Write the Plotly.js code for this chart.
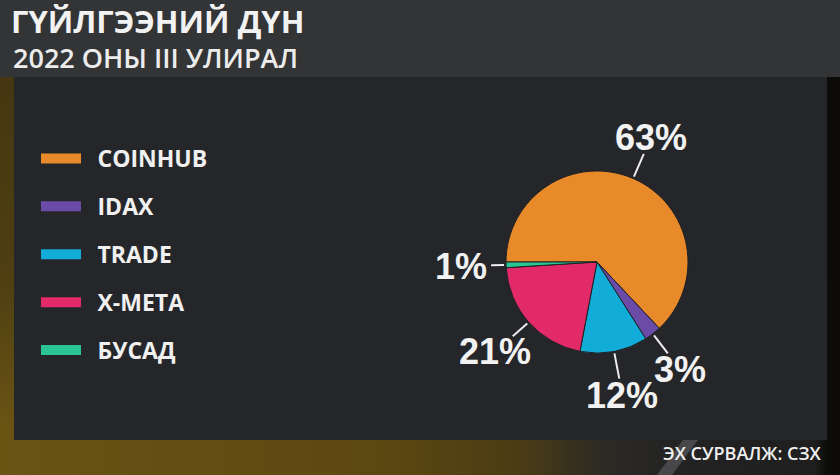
<!DOCTYPE html>
<html>
<head>
<meta charset="utf-8">
<script src="https://cdn.plot.ly/plotly-3.0.1.min.js"></script>
<style>
html,body{margin:0;padding:0;background:#141210;}
#chart{width:840px;height:475px;overflow:hidden;
background:
 linear-gradient(to right, rgba(0,0,0,0) 0%, rgba(0,0,0,0) 97%, rgba(10,9,6,0.85) 98.4%, rgba(10,9,6,0.9) 100%),
 linear-gradient(to bottom, rgba(30,26,14,0.55) 0%, rgba(30,26,14,0.35) 60%, rgba(0,0,0,0) 90%),
 linear-gradient(to right, #6a5414 0%, #5c4811 45%, #4a3c14 62%, #2c2a24 72%, #232323 80%, #1e1e1e 100%);}
</style>
</head>
<body>
<div id="chart"></div>
<script>
// ---- data ----
const categories = ['COINHUB', 'IDAX', 'TRADE', 'X-META', 'БУСАД'];
const shares = [63, 3, 12, 21, 1];
const colors = ['#E88A2A', '#6A4CA8', '#12ACD8', '#E22A68', '#2BC495'];
const titleText = 'ГҮЙЛГЭЭНИЙ ДҮН';
const subtitleText = '2022 ОНЫ III УЛИРАЛ';
const sourceText = 'ЭХ СУРВАЛЖ: СЗХ';

// ---- layout geometry ----
const W = 840, H = 475;
const pieCx = 597, pieCy = 262, pieR = 91;
const startDeg = -90; // first slice starts at 9 o'clock, clockwise
const labelDist = 136, lineStart = 93;
const px = x => x / W;
const py = y => 1 - y / H;

const traces = [];
traces.push({
  type: 'pie',
  labels: categories,
  values: shares,
  marker: {colors: colors, line: {color: '#1f2023', width: 1}},
  sort: false,
  direction: 'clockwise',
  rotation: startDeg,
  textinfo: 'none',
  hoverinfo: 'label+percent',
  showlegend: false,
  domain: {x: [px(pieCx - pieR), px(pieCx + pieR)], y: [py(pieCy + pieR), py(pieCy - pieR)]}
});
// legend entries (en space as extra gap between swatch and text)
categories.forEach((c, i) => {
  traces.push({
    type: 'scatter', mode: 'lines', x: [null], y: [null], name: '\u2002' + c,
    legendgroup: 'g' + i,
    line: {color: colors[i], width: 11},
    hoverinfo: 'skip'
  });
});

const labelFont = {family: 'Liberation Sans, Arial, sans-serif', size: 36, color: '#f2f2f2', weight: 'bold'};
const shapes = [
  {type: 'rect', xref: 'paper', yref: 'paper', x0: 0, x1: 1, y0: py(77), y1: 1,
   fillcolor: '#333436', line: {width: 0}, layer: 'below'},
  {type: 'rect', xref: 'paper', yref: 'paper', x0: px(14), x1: px(827), y0: py(440), y1: py(77),
   fillcolor: '#25262a', line: {width: 0}, layer: 'below'},
  {type: 'path', xref: 'paper', yref: 'paper',
   path: 'M' + px(683) + ',' + py(440) + 'L' + px(698) + ',' + py(440) + 'L' + px(672) + ',' + py(475) + 'L' + px(657) + ',' + py(475) + 'Z',
   fillcolor: '#48484a', line: {width: 0}, layer: 'below'}
];
const annotations = [
  {xref: 'paper', yref: 'paper', x: px(11), y: py(57), xanchor: 'left', yanchor: 'middle',
   text: subtitleText, showarrow: false,
   font: {family: 'Open Sans, sans-serif', size: 27, color: '#ececec', weight: 600}},
  {xref: 'paper', yref: 'paper', x: px(823), y: py(453), xanchor: 'right', yanchor: 'middle',
   text: sourceText, showarrow: false,
   font: {family: 'Open Sans, sans-serif', size: 18, color: '#f0f0f0', weight: 600}}
];

const total = shares.reduce((a, b) => a + b, 0);
let acc = 0;
shares.forEach((v, i) => {
  const midDeg = startDeg + (acc + v / 2) / total * 360;
  acc += v;
  const a = midDeg * Math.PI / 180;
  const sx = Math.sin(a), sy = -Math.cos(a);
  const txt = Math.round(v / total * 100) + '%';
  const digits = txt.length - 1;
  const hw = (0.556 * labelFont.size * digits + 0.889 * labelFont.size) / 2;
  const hh = 13;
  const ext = Math.min(Math.abs(sx) > 1e-6 ? hw / Math.abs(sx) : 1e9, Math.abs(sy) > 1e-6 ? hh / Math.abs(sy) : 1e9);
  const lineEnd = labelDist - ext - 4;
  shapes.push({
    type: 'line', xref: 'paper', yref: 'paper',
    x0: px(pieCx + sx * lineStart), y0: py(pieCy + sy * lineStart),
    x1: px(pieCx + sx * lineEnd), y1: py(pieCy + sy * lineEnd),
    line: {color: '#ededed', width: 2}
  });
  annotations.push({
    xref: 'paper', yref: 'paper',
    x: px(pieCx + sx * labelDist), y: py(pieCy + sy * labelDist),
    xanchor: 'center', yanchor: 'middle', text: txt, showarrow: false, font: labelFont
  });
});

const layout = {
  width: W, height: H,
  margin: {l: 0, r: 0, t: 0, b: 0},
  paper_bgcolor: 'rgba(0,0,0,0)',
  plot_bgcolor: 'rgba(0,0,0,0)',
  title: {text: titleText, x: px(11), xanchor: 'left', xref: 'paper',
          y: py(22), yref: 'container', yanchor: 'middle',
          font: {family: 'Open Sans, sans-serif', size: 31, color: '#f2f2f2', weight: 'bold'}},
  xaxis: {visible: false, range: [0, 1], fixedrange: true},
  yaxis: {visible: false, range: [0, 1], fixedrange: true},
  showlegend: true,
  legend: {x: px(36), y: py(137), xanchor: 'left', yanchor: 'top',
           bgcolor: 'rgba(0,0,0,0)', borderwidth: 0,
           traceorder: 'grouped', tracegroupgap: 15, itemwidth: 40,
           font: {family: 'Open Sans, sans-serif', size: 23, color: '#f0f0f0', weight: 'bold'},
           itemclick: false, itemdoubleclick: false},
  shapes: shapes,
  annotations: annotations
};

Plotly.newPlot('chart', traces, layout, {displayModeBar: false, staticPlot: true});
</script>
</body>
</html>
